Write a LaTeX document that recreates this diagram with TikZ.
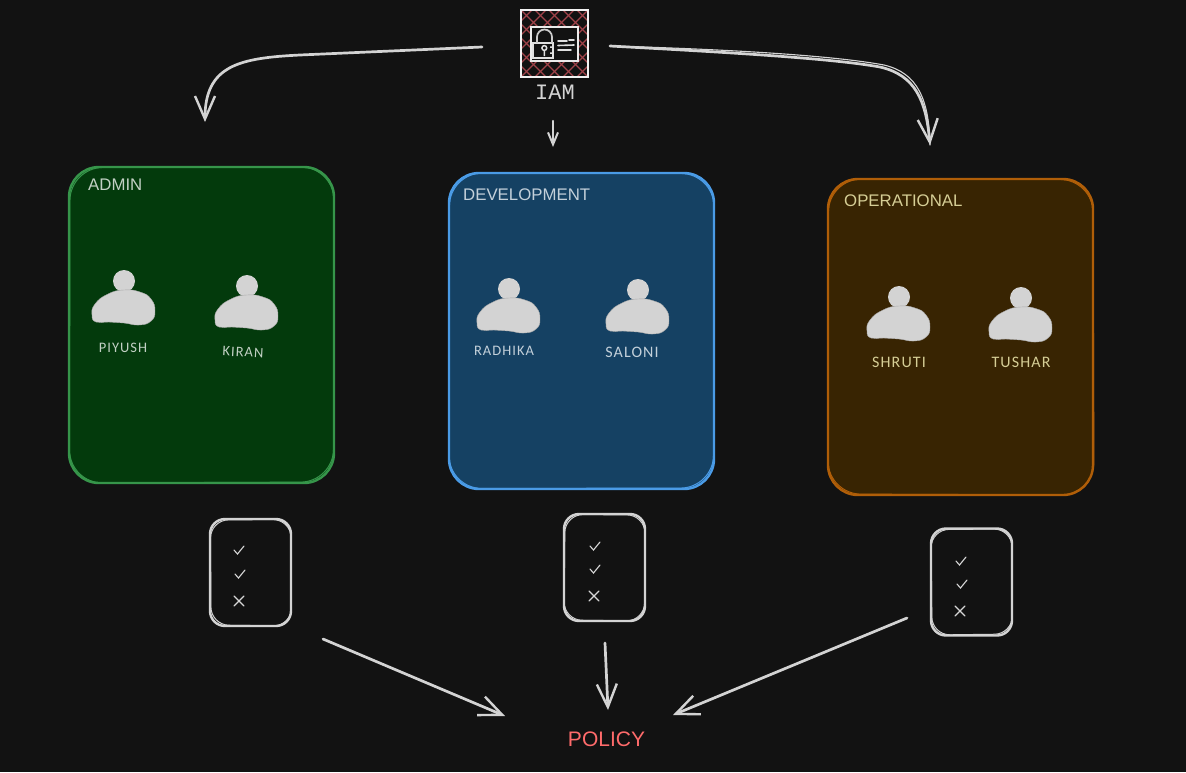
\documentclass[tikz,border=0pt]{standalone}
\usepackage{fontspec}
\setmainfont{Liberation Sans}
\newfontfamily\handfont[LetterSpace=7]{Carlito}
\newfontfamily\iamfont{Liberation Mono}
\usetikzlibrary{arrows.meta}
\definecolor{bgc}{HTML}{121212}
\definecolor{ink}{HTML}{D3D3D3}
\definecolor{grnf}{HTML}{033A0C}
\definecolor{grns}{HTML}{36954A}
\definecolor{bluf}{HTML}{154163}
\definecolor{blus}{HTML}{4A9BE6}
\definecolor{ornf}{HTML}{382402}
\definecolor{orns}{HTML}{B05E08}
\definecolor{polc}{HTML}{FF6B6B}
\definecolor{hatchc}{HTML}{A0434A}
\definecolor{grnt}{HTML}{C2D0C4}
\definecolor{blut}{HTML}{C3D0DA}
\definecolor{ornt}{HTML}{D6CE96}
\tikzset{
  x=1pt,y=-1pt,
  team/.style={draw,line width=2.4pt,rounded corners=30pt,minimum width=265pt,minimum height=316pt,inner sep=0pt},
  rough/.style={line width=1pt,rounded corners=33pt},
  teamname/.style={anchor=west,inner sep=0pt,font=\fontsize{16.8}{20}\selectfont},
  handlabel/.style={inner sep=0pt,font=\handfont\fontsize{14.5}{18}\selectfont},
  handwide/.style={inner sep=0pt,font=\handfont\fontsize{16}{18}\selectfont},
  listbox/.style={draw=ink,line width=2.4pt,rounded corners=15pt,minimum width=81pt,minimum height=107pt,inner sep=0pt},
  roughlist/.style={draw=ink,line width=1pt,rounded corners=18pt},
  flow/.style={draw=ink,line width=2.7pt,line cap=round},
  big/.style={flow,-{Straight Barb[length=23pt,width=20pt,line width=2.4pt]}},
  small/.style={flow,line width=2.2pt,-{Straight Barb[length=12pt,width=10pt,line width=2pt]}},
  echo/.style={draw=ink,line width=1.1pt,line cap=round},
  tickline/.style={draw=ink!90!white,line width=1.1pt,line cap=round},
  person/.pic={
    \fill[ink] (0,0) circle[radius=11pt];
    \fill[ink,draw=ink!80!black,line width=.4pt] plot[smooth cycle,tension=.85] coordinates {(-32,34) (-29,23) (-16,13) (0,9) (16,11) (27,18) (31,30) (27,40) (15,44) (0,42) (-15,41) (-28,41)};
  },
  checkmark/.pic={\draw[tickline] (-5,0) -- (-1.5,4) -- (5,-4);},
  crossmark/.pic={\draw[tickline] (-5,-5) -- (5,5) (-5,5) -- (5,-5);},
}
\begin{document}
\begin{tikzpicture}
\useasboundingbox (0,0) rectangle (1186,772);
\fill[bgc] (0,0) rectangle (1186,772);

% IAM icon
\begin{scope}
\clip (521,10) rectangle (588,77);
\foreach \k in {-70,-56,...,70} {
  \draw[hatchc,line width=1.2pt] (521+\k,10) -- ++(67,67);
  \draw[hatchc,line width=1.2pt] (588+\k,10) -- ++(-67,67);
}
\end{scope}
\node[draw=white!95!black,line width=2pt,minimum width=67pt,minimum height=67pt,inner sep=0pt] (iam) at (554.5,43.5) {};
\fill[bgc] (531,27) rectangle (578,61);
\draw[white!92!black,line width=2pt] (531,27) rectangle (578,61);
\draw[white!88!black,line width=1.7pt] (533,43) rectangle (553,58);
\draw[white!80!black,line width=1.7pt] (537,43) -- (537,37) arc[start angle=180,end angle=0,radius=7.5pt] -- (552,43);
\draw[white!88!black,line width=1.5pt] (544.3,48) circle[radius=2.4pt] (544.3,50.4) -- (544.3,56) (550,47) -- (553,47) (550,53) -- (553,53);
\draw[white!88!black,line width=1.6pt,line cap=round] (558,41) -- (567,41) (569,40) -- (574,40) (558,45.5) -- (574,45) (558,50) -- (571,50);
\node[inner sep=0pt,font=\iamfont\fontsize{22}{24}\selectfont,text=ink] (iamlabel) at (555,92) {IAM};

% team boxes
\node[team,draw=grns,fill=grnf] (admin) at (201.5,325) {};
\node[team,draw=blus,fill=bluf] (dev) at (581.5,331) {};
\node[team,draw=orns,fill=ornf] (ops) at (960.5,337) {};
\draw[rough,draw=grns] (69.5,483) -- (70,167.5) -- (334,167) -- (333.5,482) -- cycle;
\draw[rough,draw=blus] (449,488.5) -- (449.5,173) -- (714,173.5) -- (713.5,488) -- cycle;
\draw[rough,draw=orns] (828,494) -- (828.5,179) -- (1093,179.5) -- (1094,495) -- cycle;
\node[teamname,text=grnt] (adminname) at (88,185) {ADMIN};
\node[teamname,text=blut] (devname) at (463,195) {DEVELOPMENT};
\node[teamname,text=ornt] (opsname) at (844,201) {OPERATIONAL};

% people
\pic at (124,281) {person};
\pic at (247,286) {person};
\pic at (509,289) {person};
\pic at (638,290) {person};
\pic at (899,297) {person};
\pic at (1021,298) {person};
\node[handlabel,text=grnt] (piyush) at (123,348) {PIYUSH};
\node[handlabel,text=grnt,rotate=-3] (kiran) at (243,352) {KIRAN};
\node[handlabel,text=blut] (radhika) at (504,351) {RADHIKA};
\node[handwide,text=blut] (saloni) at (632,352) {SALONI};
\node[handwide,text=ornt] (shruti) at (899,362) {SHRUTI};
\node[handwide,text=ornt] (tushar) at (1021,362) {TUSHAR};

% checklists
\node[listbox] (list1) at (250.5,572.5) {};
\node[listbox] (list2) at (604.5,567.5) {};
\node[listbox] (list3) at (971.5,582) {};
\draw[roughlist] (211,625) -- (210.5,520) -- (291,519.5) -- (291.5,626) -- cycle;
\draw[roughlist] (564,620) -- (565,514.5) -- (645,515) -- (644.5,621) -- cycle;
\draw[roughlist] (932,635) -- (931,529.5) -- (1012,529) -- (1012.5,634) -- cycle;
\pic at (239,550) {checkmark};
\pic at (240,574) {checkmark};
\pic at (239,601) {crossmark};
\pic at (595,546) {checkmark};
\pic at (595,569) {checkmark};
\pic at (594,596) {crossmark};
\pic at (961,561) {checkmark};
\pic at (962,584) {checkmark};
\pic at (960,611) {crossmark};

% policy
\node[inner sep=0pt,text=polc,font=\fontsize{21}{24}\selectfont] (policy) at (606.5,739) {POLICY};

% connector ends
\coordinate (a1s) at (482,47);
\coordinate (a1e) at (205,122);
\coordinate (a2s) at (553,121);
\coordinate (a2e) at (553,147);
\coordinate (a3s) at (610,46);
\coordinate (a3e) at (930,145);
\coordinate (b1s) at (323,639);
\coordinate (b1e) at (505,716);
\coordinate (b2s) at (605,643);
\coordinate (b2e) at (608,710);
\coordinate (b3s) at (907,618);
\coordinate (b3e) at (673,715);

\draw[big] (a1s) -- (300,55) .. controls (240,58) and (205,65) .. (a1e);
\draw[small] (a2s) -- (a2e);
\draw[big] (a3s) .. controls (720,52) and (830,58) .. (880,67) .. controls (915,75) and (926,100) .. (a3e);
\draw[echo] (a3s) .. controls (720,49) and (830,55) .. (884,65) .. controls (918,73) and (929,100) .. (a3e);
\draw[big] (b1s) -- (b1e);
\draw[big] (b2s) -- (b2e);
\draw[big] (b3s) -- (b3e);
\end{tikzpicture}
\end{document}
